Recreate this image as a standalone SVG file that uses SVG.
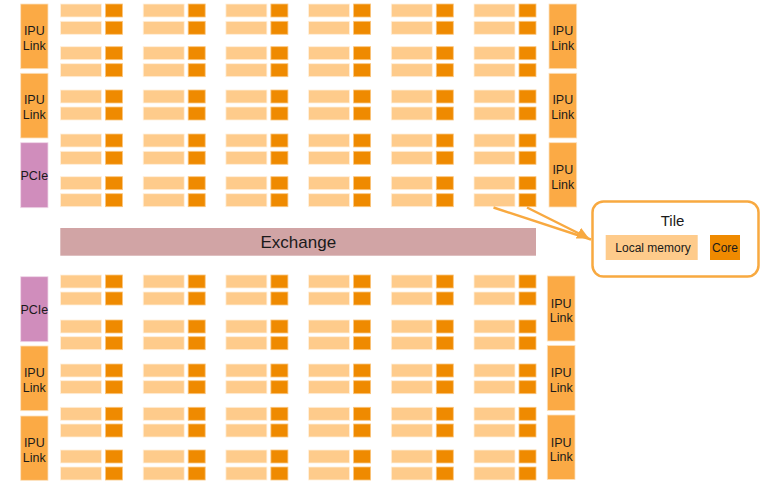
<svg xmlns="http://www.w3.org/2000/svg" xmlns:xlink="http://www.w3.org/1999/xlink" width="762" height="484" viewBox="0 0 762 484">
<style>
  .mem{fill:#fecb8b;stroke:#fff0dc;stroke-width:0.8}
  .core{fill:#ef8a00;stroke:#fbc57e;stroke-width:0.8}
  .link{fill:#fbaa45;stroke:#fde2bd;stroke-width:0.8}
  .pcie{fill:#d08dbc;stroke:#f0d6e8;stroke-width:0.8}
  .lbl{font-family:"Liberation Sans",Arial,sans-serif;font-size:12.5px;fill:#1a1a1a;text-anchor:middle}
  .conn{stroke:#f8a940;stroke-width:2.4;fill:none}
</style>
<defs>
  <g id="tile">
    <rect class="mem" x="0" y="0" width="41" height="13"/>
    <rect class="core" x="45" y="0" width="17" height="13"/>
  </g>
  <marker id="ah" viewBox="0 0 10 10" refX="9" refY="5" markerWidth="5" markerHeight="5" orient="auto" markerUnits="strokeWidth">
    <path d="M0,0 L10,5 L0,10 z" fill="#f8a940"/>
  </marker>
</defs>
<rect width="762" height="484" fill="#fff"/>

<!-- left side blocks -->
<g id="ipu-link-l1"><rect class="link" x="20.7" y="4" width="27.3" height="64.7"/><text class="lbl" x="34.3" y="35">IPU</text><text class="lbl" x="34.3" y="50">Link</text></g>
<g id="ipu-link-l2"><rect class="link" x="20.7" y="73.3" width="27.3" height="64.7"/><text class="lbl" x="34.3" y="104.3">IPU</text><text class="lbl" x="34.3" y="119.3">Link</text></g>
<g id="pcie-l1"><rect class="pcie" x="20.7" y="142.7" width="27.3" height="65"/><text class="lbl" x="34.3" y="179.5">PCIe</text></g>
<g id="pcie-l2"><rect class="pcie" x="20.7" y="276.7" width="27.3" height="65"/><text class="lbl" x="34.3" y="313.5">PCIe</text></g>
<g id="ipu-link-l3"><rect class="link" x="20.7" y="346" width="27.3" height="64.7"/><text class="lbl" x="34.3" y="377">IPU</text><text class="lbl" x="34.3" y="392">Link</text></g>
<g id="ipu-link-l4"><rect class="link" x="20.7" y="416" width="27.3" height="64.3"/><text class="lbl" x="34.3" y="447">IPU</text><text class="lbl" x="34.3" y="462">Link</text></g>

<!-- right side blocks -->
<g id="ipu-link-r1"><rect class="link" x="549" y="4" width="27.7" height="64.7"/><text class="lbl" x="562.8" y="35">IPU</text><text class="lbl" x="562.8" y="50">Link</text></g>
<g id="ipu-link-r2"><rect class="link" x="549" y="73.3" width="27.7" height="64.7"/><text class="lbl" x="562.8" y="104.3">IPU</text><text class="lbl" x="562.8" y="119.3">Link</text></g>
<g id="ipu-link-r3"><rect class="link" x="549" y="142.7" width="27.7" height="64.3"/><text class="lbl" x="562.8" y="173.7">IPU</text><text class="lbl" x="562.8" y="188.7">Link</text></g>
<g id="ipu-link-r4"><rect class="link" x="547.3" y="276" width="27.7" height="65"/><text class="lbl" x="561.2" y="307.5">IPU</text><text class="lbl" x="561.2" y="322.3">Link</text></g>
<g id="ipu-link-r5"><rect class="link" x="547.3" y="345.5" width="27.7" height="65"/><text class="lbl" x="561.2" y="377">IPU</text><text class="lbl" x="561.2" y="391.8">Link</text></g>
<g id="ipu-link-r6"><rect class="link" x="547.3" y="415" width="27.7" height="64.5"/><text class="lbl" x="561.2" y="446.5">IPU</text><text class="lbl" x="561.2" y="461.3">Link</text></g>

<!-- exchange -->
<g id="exchange"><rect x="60.3" y="228" width="475.7" height="27.7" fill="#d1a4a5"/><text x="298.3" y="247.5" font-family="Liberation Sans,Arial,sans-serif" font-size="17" fill="#1a1a1a" text-anchor="middle">Exchange</text></g>

<!-- top tiles -->
<g id="tiles-top">
<g id="t-0"><use xlink:href="#tile" x="60.5" y="4"/><use xlink:href="#tile" x="143.2" y="4"/><use xlink:href="#tile" x="225.9" y="4"/><use xlink:href="#tile" x="308.6" y="4"/><use xlink:href="#tile" x="391.3" y="4"/><use xlink:href="#tile" x="474" y="4"/></g>
<g id="t-1"><use xlink:href="#tile" x="60.5" y="21.3"/><use xlink:href="#tile" x="143.2" y="21.3"/><use xlink:href="#tile" x="225.9" y="21.3"/><use xlink:href="#tile" x="308.6" y="21.3"/><use xlink:href="#tile" x="391.3" y="21.3"/><use xlink:href="#tile" x="474" y="21.3"/></g>
<g id="t-2"><use xlink:href="#tile" x="60.5" y="46.7"/><use xlink:href="#tile" x="143.2" y="46.7"/><use xlink:href="#tile" x="225.9" y="46.7"/><use xlink:href="#tile" x="308.6" y="46.7"/><use xlink:href="#tile" x="391.3" y="46.7"/><use xlink:href="#tile" x="474" y="46.7"/></g>
<g id="t-3"><use xlink:href="#tile" x="60.5" y="63.7"/><use xlink:href="#tile" x="143.2" y="63.7"/><use xlink:href="#tile" x="225.9" y="63.7"/><use xlink:href="#tile" x="308.6" y="63.7"/><use xlink:href="#tile" x="391.3" y="63.7"/><use xlink:href="#tile" x="474" y="63.7"/></g>
<g id="t-4"><use xlink:href="#tile" x="60.5" y="90"/><use xlink:href="#tile" x="143.2" y="90"/><use xlink:href="#tile" x="225.9" y="90"/><use xlink:href="#tile" x="308.6" y="90"/><use xlink:href="#tile" x="391.3" y="90"/><use xlink:href="#tile" x="474" y="90"/></g>
<g id="t-5"><use xlink:href="#tile" x="60.5" y="107"/><use xlink:href="#tile" x="143.2" y="107"/><use xlink:href="#tile" x="225.9" y="107"/><use xlink:href="#tile" x="308.6" y="107"/><use xlink:href="#tile" x="391.3" y="107"/><use xlink:href="#tile" x="474" y="107"/></g>
<g id="t-6"><use xlink:href="#tile" x="60.5" y="134"/><use xlink:href="#tile" x="143.2" y="134"/><use xlink:href="#tile" x="225.9" y="134"/><use xlink:href="#tile" x="308.6" y="134"/><use xlink:href="#tile" x="391.3" y="134"/><use xlink:href="#tile" x="474" y="134"/></g>
<g id="t-7"><use xlink:href="#tile" x="60.5" y="151.3"/><use xlink:href="#tile" x="143.2" y="151.3"/><use xlink:href="#tile" x="225.9" y="151.3"/><use xlink:href="#tile" x="308.6" y="151.3"/><use xlink:href="#tile" x="391.3" y="151.3"/><use xlink:href="#tile" x="474" y="151.3"/></g>
<g id="t-8"><use xlink:href="#tile" x="60.5" y="176.7"/><use xlink:href="#tile" x="143.2" y="176.7"/><use xlink:href="#tile" x="225.9" y="176.7"/><use xlink:href="#tile" x="308.6" y="176.7"/><use xlink:href="#tile" x="391.3" y="176.7"/><use xlink:href="#tile" x="474" y="176.7"/></g>
<g id="t-9"><use xlink:href="#tile" x="60.5" y="193.7"/><use xlink:href="#tile" x="143.2" y="193.7"/><use xlink:href="#tile" x="225.9" y="193.7"/><use xlink:href="#tile" x="308.6" y="193.7"/><use xlink:href="#tile" x="391.3" y="193.7"/><use xlink:href="#tile" x="474" y="193.7"/></g>
</g>

<!-- bottom tiles -->
<g id="tiles-bottom">
<g id="b-0"><use xlink:href="#tile" x="60.5" y="275"/><use xlink:href="#tile" x="143.2" y="275"/><use xlink:href="#tile" x="225.9" y="275"/><use xlink:href="#tile" x="308.6" y="275"/><use xlink:href="#tile" x="391.3" y="275"/><use xlink:href="#tile" x="474" y="275"/></g>
<g id="b-1"><use xlink:href="#tile" x="60.5" y="292"/><use xlink:href="#tile" x="143.2" y="292"/><use xlink:href="#tile" x="225.9" y="292"/><use xlink:href="#tile" x="308.6" y="292"/><use xlink:href="#tile" x="391.3" y="292"/><use xlink:href="#tile" x="474" y="292"/></g>
<g id="b-2"><use xlink:href="#tile" x="60.5" y="320"/><use xlink:href="#tile" x="143.2" y="320"/><use xlink:href="#tile" x="225.9" y="320"/><use xlink:href="#tile" x="308.6" y="320"/><use xlink:href="#tile" x="391.3" y="320"/><use xlink:href="#tile" x="474" y="320"/></g>
<g id="b-3"><use xlink:href="#tile" x="60.5" y="336.7"/><use xlink:href="#tile" x="143.2" y="336.7"/><use xlink:href="#tile" x="225.9" y="336.7"/><use xlink:href="#tile" x="308.6" y="336.7"/><use xlink:href="#tile" x="391.3" y="336.7"/><use xlink:href="#tile" x="474" y="336.7"/></g>
<g id="b-4"><use xlink:href="#tile" x="60.5" y="364"/><use xlink:href="#tile" x="143.2" y="364"/><use xlink:href="#tile" x="225.9" y="364"/><use xlink:href="#tile" x="308.6" y="364"/><use xlink:href="#tile" x="391.3" y="364"/><use xlink:href="#tile" x="474" y="364"/></g>
<g id="b-5"><use xlink:href="#tile" x="60.5" y="380.7"/><use xlink:href="#tile" x="143.2" y="380.7"/><use xlink:href="#tile" x="225.9" y="380.7"/><use xlink:href="#tile" x="308.6" y="380.7"/><use xlink:href="#tile" x="391.3" y="380.7"/><use xlink:href="#tile" x="474" y="380.7"/></g>
<g id="b-6"><use xlink:href="#tile" x="60.5" y="407.3"/><use xlink:href="#tile" x="143.2" y="407.3"/><use xlink:href="#tile" x="225.9" y="407.3"/><use xlink:href="#tile" x="308.6" y="407.3"/><use xlink:href="#tile" x="391.3" y="407.3"/><use xlink:href="#tile" x="474" y="407.3"/></g>
<g id="b-7"><use xlink:href="#tile" x="60.5" y="424"/><use xlink:href="#tile" x="143.2" y="424"/><use xlink:href="#tile" x="225.9" y="424"/><use xlink:href="#tile" x="308.6" y="424"/><use xlink:href="#tile" x="391.3" y="424"/><use xlink:href="#tile" x="474" y="424"/></g>
<g id="b-8"><use xlink:href="#tile" x="60.5" y="450"/><use xlink:href="#tile" x="143.2" y="450"/><use xlink:href="#tile" x="225.9" y="450"/><use xlink:href="#tile" x="308.6" y="450"/><use xlink:href="#tile" x="391.3" y="450"/><use xlink:href="#tile" x="474" y="450"/></g>
<g id="b-9"><use xlink:href="#tile" x="60.5" y="467"/><use xlink:href="#tile" x="143.2" y="467"/><use xlink:href="#tile" x="225.9" y="467"/><use xlink:href="#tile" x="308.6" y="467"/><use xlink:href="#tile" x="391.3" y="467"/><use xlink:href="#tile" x="474" y="467"/></g>
</g>

<!-- tile callout -->
<g id="tile-legend">
  <rect x="592.5" y="201.5" width="166" height="75" rx="11" fill="#fff" stroke="#f8a940" stroke-width="2.5"/>
  <text x="672.5" y="226" font-family="Liberation Sans,Arial,sans-serif" font-size="15" fill="#1a1a1a" text-anchor="middle">Tile</text>
  <rect x="605.7" y="235" width="92" height="25" fill="#fecb8b"/>
  <text x="653" y="252.3" font-family="Liberation Sans,Arial,sans-serif" font-size="12" fill="#1a1a1a" text-anchor="middle">Local memory</text>
  <rect x="710" y="235" width="30" height="25" fill="#ef8a00"/>
  <text x="725" y="252.3" font-family="Liberation Sans,Arial,sans-serif" font-size="12" fill="#1a1a1a" text-anchor="middle">Core</text>
</g>

<!-- connectors -->
<g id="connectors">
  <line class="conn" x1="493.5" y1="207.5" x2="591" y2="239.5"/>
  <line class="conn" x1="527" y1="207.5" x2="588" y2="238" marker-end="url(#ah)"/>
</g>
</svg>
